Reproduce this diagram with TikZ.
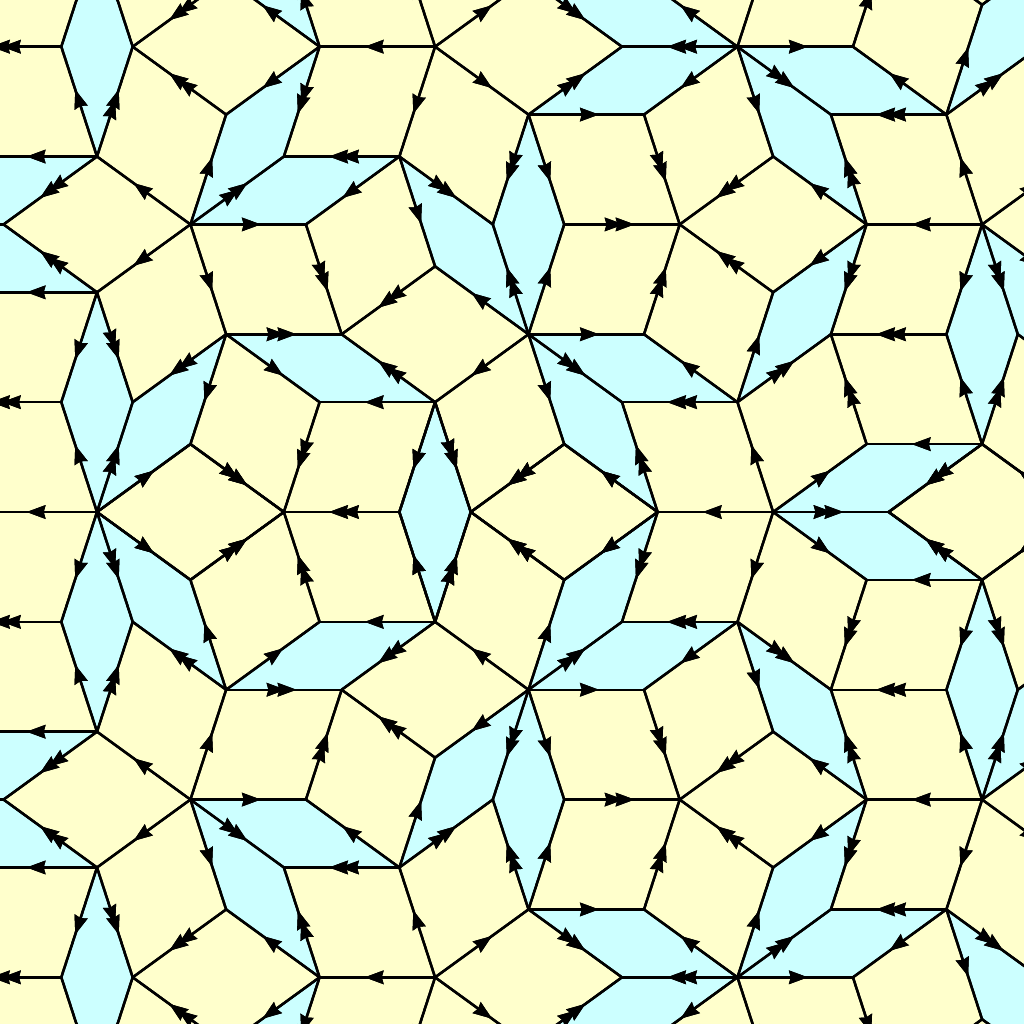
\documentclass[tikz,border=0pt]{standalone}
\usepackage{tikz}
\usetikzlibrary{calc,decorations.markings}

\definecolor{thickcol}{HTML}{FFFFCC}
\definecolor{thincol}{HTML}{CCFFFF}

\newcommand{\edgelen}{1.155}
% arrow head, tip at the mark
\newcommand{\rhtip}{\fill (0.01,0) -- (-0.18,0.07) -- (-0.16,0) -- (-0.18,-0.07) -- cycle;}
\newif\ifedges

\tikzset{
  rh/.style={line width=0.7pt},
  one/.style={postaction={decorate},
    decoration={markings,mark=at position 0.6 with {\rhtip}}},
  two/.style={postaction={decorate},
    decoration={markings,mark=at position 0.505 with {\rhtip},
                         mark=at position 0.6 with {\rhtip}}}
}

% point of the lattice: a*d0 + b*d1 + c*d2 + d*d3
\newcommand{\latpt}[5]{%
  \pgfmathsetmacro{\vx}{\edgelen*(#2+0.809017*(#3)+0.309017*(#4)-0.309017*(#5))}%
  \pgfmathsetmacro{\vy}{\edgelen*(0.587785*(#3)+0.951057*(#4)+0.951057*(#5))}%
  \coordinate (#1) at (\vx,\vy);}

% thick rhombus: acute corner (single arrows out), diagonal direction 36*k
\newcommand{\thk}[5]{%
  \latpt{p0}{#1}{#2}{#3}{#4}
  \path (p0) ++({36*(#5-1)}:\edgelen) coordinate (p1) ++({36*(#5+1)}:\edgelen) coordinate (p2);
  \path (p0) ++({36*(#5+1)}:\edgelen) coordinate (p3);
  \ifedges
    \draw[rh,one] (p0) -- (p1);
    \draw[rh,one] (p0) -- (p3);
    \draw[rh,two] (p1) -- (p2);
    \draw[rh,two] (p3) -- (p2);
  \else
    \fill[thickcol] (p0) -- (p1) -- (p2) -- (p3) -- cycle;
  \fi}

% thin rhombus: obtuse corner (single arrows in), short diagonal direction 36*k
\newcommand{\thn}[5]{%
  \latpt{q0}{#1}{#2}{#3}{#4}
  \path (q0) ++({36*(#5-2)}:\edgelen) coordinate (q1) ++({36*(#5+2)}:\edgelen) coordinate (q2);
  \path (q0) ++({36*(#5+2)}:\edgelen) coordinate (q3);
  \ifedges
    \draw[rh,one] (q1) -- (q0);
    \draw[rh,one] (q3) -- (q0);
    \draw[rh,two] (q1) -- (q2);
    \draw[rh,two] (q3) -- (q2);
  \else
    \fill[thincol] (q0) -- (q1) -- (q2) -- (q3) -- cycle;
  \fi}

% upper half of the patch, the lower half is its mirror image
\newcommand{\tilings}{%
  \thn{-1}{2}{0}{3}{0}
  \thk{-1}{2}{0}{2}{4}
  \thn{-2}{2}{0}{2}{8}
  \thk{0}{1}{1}{1}{5}
  \thn{-1}{0}{1}{1}{2}
  \thk{0}{0}{1}{1}{6}
  \thn{0}{0}{0}{1}{0}
  \thk{0}{0}{0}{0}{4}
  \thk{0}{1}{1}{1}{7}
  \thn{0}{1}{0}{0}{4}
  \thk{0}{0}{0}{0}{0}
  \thk{0}{1}{1}{0}{8}
  \thn{0}{1}{2}{1}{9}
  \thk{0}{1}{1}{1}{3}
  \thk{0}{2}{2}{1}{5}
  \thk{1}{2}{2}{1}{6}
  \thn{1}{1}{1}{1}{3}
  \thk{0}{1}{1}{1}{9}
  \thn{1}{0}{2}{-1}{2}
  \thk{2}{0}{2}{-1}{6}
  \thn{2}{0}{1}{-1}{0}
  \thk{3}{0}{3}{-3}{5}
  \thk{2}{1}{2}{-1}{7}
  \thn{2}{1}{2}{-2}{1}
  \thk{2}{1}{2}{-1}{5}
  \thk{1}{2}{1}{1}{7}
  \thn{1}{2}{1}{0}{1}
  \thn{2}{1}{3}{-1}{5}
  \thk{1}{2}{2}{1}{8}
  \thk{1}{2}{2}{1}{0}
  \thk{1}{2}{2}{1}{2}
  \thk{1}{2}{2}{1}{4}
  \thn{3}{1}{3}{0}{3}
  \thk{2}{1}{3}{0}{9}
  \thk{2}{1}{2}{-1}{1}
  \thn{3}{1}{2}{-1}{7}
  \thk{3}{2}{3}{0}{7}
  \thk{4}{1}{4}{-2}{5}
  \thk{4}{0}{3}{-2}{3}
  \thk{4}{0}{3}{-3}{4}
  \thn{4}{0}{4}{-2}{9}
  \thk{4}{0}{3}{-3}{2}
  \thn{4}{1}{3}{-3}{8}
  \thk{5}{1}{3}{-3}{4}
  \thn{5}{1}{3}{-2}{0}
  \thk{5}{1}{4}{-2}{6}
  \thk{5}{1}{4}{-2}{4}
  \thn{4}{2}{3}{0}{7}
  \thn{3}{2}{3}{-1}{1}
  \thn{2}{3}{2}{1}{7}
  \thk{3}{2}{3}{0}{3}
  \thk{3}{2}{3}{0}{1}
  \thk{5}{1}{4}{-1}{3}
  \thn{5}{1}{5}{-1}{9}
  \thk{5}{1}{4}{-2}{2}
  \thk{-1}{2}{1}{3}{6}
  \thk{-1}{3}{1}{3}{7}
  \thn{-1}{3}{1}{2}{1}
  \thk{6}{0}{4}{-4}{5}
  \thk{6}{0}{4}{-4}{3}
  \thn{6}{0}{5}{-3}{6}
  \thk{5}{1}{4}{-2}{0}
  \thk{5}{2}{5}{-1}{5}
}

\begin{document}
\begin{tikzpicture}
  \useasboundingbox (-0.97,-5.12) rectangle (9.27,5.12);
  \clip (-0.97,-5.12) rectangle (9.27,5.12);

  % fills first, then the edges with their arrows
  \edgesfalse
  \foreach \s in {1,-1}{
    \begin{scope}[yscale=\s]
      \tilings
    \end{scope}
  }
  \edgestrue
  \foreach \s in {1,-1}{
    \begin{scope}[yscale=\s]
      \tilings
    \end{scope}
  }
\end{tikzpicture}
\end{document}
